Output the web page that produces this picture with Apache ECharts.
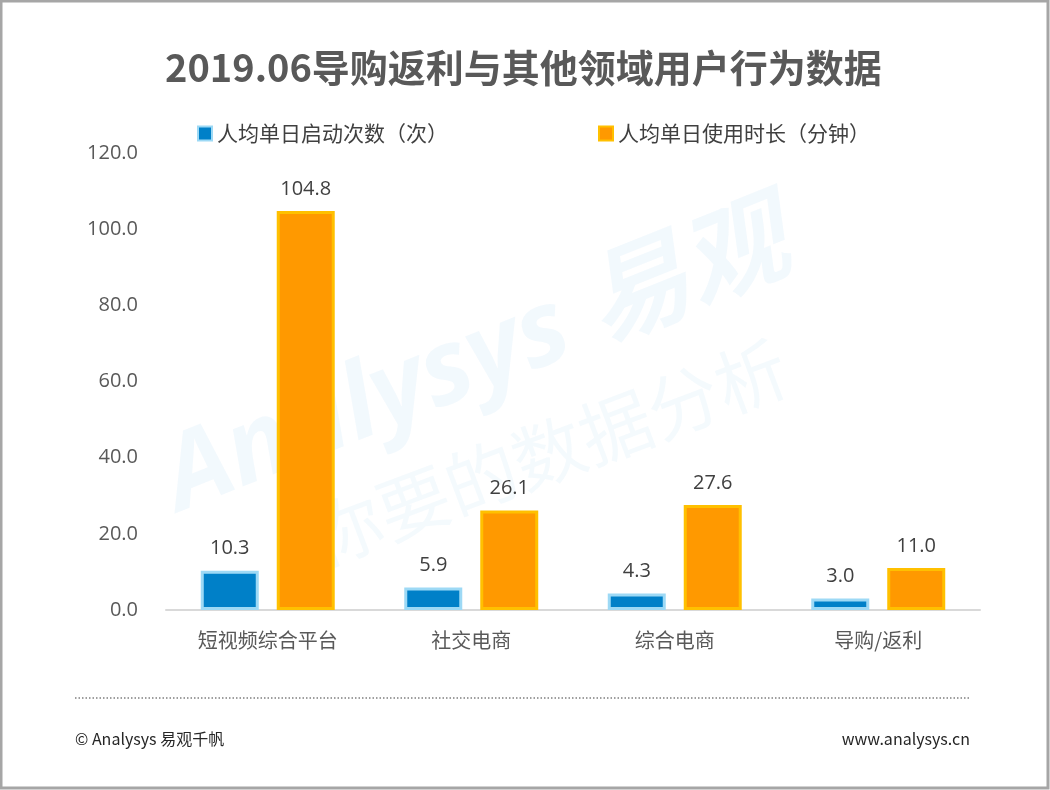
<!DOCTYPE html>
<html>
<head>
<meta charset="utf-8">
<title>2019.06导购返利与其他领域用户行为数据</title>
<script src="https://cdn.jsdelivr.net/npm/echarts@6/dist/echarts.min.js"></script>
<style>
  html, body { margin: 0; padding: 0; background: #fff; }
  #chart { width: 1050px; height: 790px; }
</style>
</head>
<body>
<div id="chart"></div>
<script>
// data
const categories = ["短视频综合平台", "社交电商", "综合电商", "导购/返利"];
const launches = [10.3, 5.9, 4.3, 3.0];      // 人均单日启动次数（次）
const minutes = [104.8, 26.1, 27.6, 11.0];   // 人均单日使用时长（分钟）
const yTicks = { min: 0, max: 120, interval: 20 };

const FONT = "'Open Sans', 'Noto Sans CJK SC', sans-serif";
const CJK = "'Noto Sans CJK SC', sans-serif";

const chart = echarts.init(document.getElementById("chart"));

const option = {
  backgroundColor: "#fff",
  animation: false,
  textStyle: { fontFamily: FONT },
  title: {
    text: "2019.06导购返利与其他领域用户行为数据",
    left: 160,
    top: 44,
    textStyle: { fontFamily: CJK, fontSize: 38, fontWeight: "bold", color: "#595959" },
  },
  legend: {
    left: 192,
    top: 118,
    icon: "rect",
    itemWidth: 14,
    itemHeight: 14,
    itemGap: 150,
    textStyle: { fontFamily: CJK, fontSize: 21, color: "#404040" },
    data: ["人均单日启动次数（次）", "人均单日使用时长（分钟）"],
  },
  grid: { left: 166, right: 70, top: 153, bottom: 180 },
  xAxis: {
    type: "category",
    data: categories,
    axisLine: { lineStyle: { color: "#d9d9d9", width: 2 } },
    axisTick: { show: false },
    axisLabel: { fontFamily: CJK, fontSize: 20, color: "#595959", margin: 20 },
  },
  yAxis: {
    type: "value",
    min: yTicks.min,
    max: yTicks.max,
    interval: yTicks.interval,
    splitLine: { show: false },
    axisLine: { show: false },
    axisTick: { show: false },
    axisLabel: {
      fontSize: 20,
      color: "#595959",
      margin: 28,
      formatter: (v) => v.toFixed(1),
    },
  },
  graphic: [
    // faint watermark
    {
      type: "text",
      z: -10,
      left: 150,
      top: 190,
      rotation: 0.38,
      style: {
        text: "Analysys 易观",
        font: "italic bold 104px " + FONT,
        fill: "rgba(0,130,210,0.05)",
      },
    },
    {
      type: "text",
      z: -10,
      left: 300,
      top: 330,
      rotation: 0.36,
      style: {
        text: "你要的数据分析",
        font: "72px " + CJK,
        fill: "rgba(0,130,210,0.045)",
      },
    },
    // footer
    {
      type: "line",
      shape: { x1: 75, y1: 698, x2: 970, y2: 698 },
      style: { stroke: "#7f7f7f", lineWidth: 1.5, lineDash: [1.5, 2] },
    },
    {
      type: "text",
      left: 75,
      top: 731,
      style: { text: "© Analysys 易观千帆", font: "16px " + CJK, fill: "#262626" },
    },
    {
      type: "text",
      right: 80,
      top: 731,
      style: { text: "www.analysys.cn", font: "16px " + CJK, fill: "#262626" },
    },
    // outer frame
    {
      type: "rect",
      shape: { x: 1, y: 1, width: 1047, height: 787 },
      style: { fill: "none", stroke: "#a6a6a6", lineWidth: 3 },
    },
  ],
  series: [
    {
      name: "人均单日启动次数（次）",
      type: "bar",
      data: launches,
      barWidth: 58,
      barGap: "31%",
      itemStyle: { color: "#0080c8", borderColor: "#9dd9f5", borderWidth: 3 },
      label: {
        show: true,
        position: "top",
        distance: 12,
        fontSize: 20,
        color: "#404040",
        formatter: (p) => p.value.toFixed(1),
      },
    },
    {
      name: "人均单日使用时长（分钟）",
      type: "bar",
      data: minutes,
      barWidth: 58,
      itemStyle: { color: "#ff9900", borderColor: "#ffc000", borderWidth: 3 },
      label: {
        show: true,
        position: "top",
        distance: 12,
        fontSize: 20,
        color: "#404040",
        formatter: (p) => p.value.toFixed(1),
      },
    },
  ],
};

chart.setOption(option);
</script>
</body>
</html>
